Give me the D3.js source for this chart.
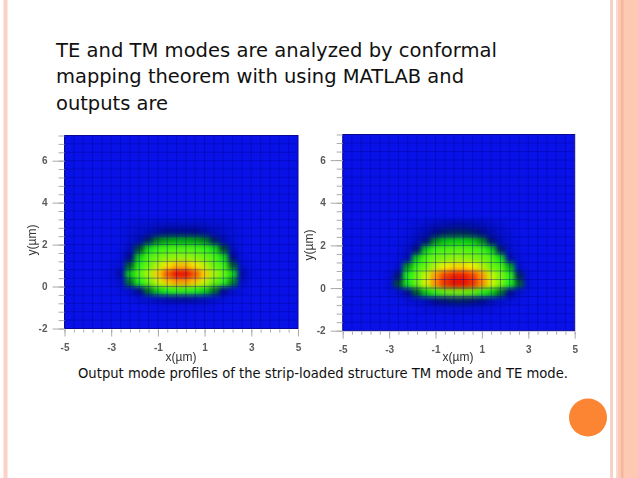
<!DOCTYPE html>
<html>
<head>
<meta charset="utf-8">
<script src="https://cdn.jsdelivr.net/npm/d3@7/dist/d3.min.js"></script>
<style>
html, body { margin: 0; padding: 0; background: #fff; }
svg { display: block; }
.slide-text { font-family: "DejaVu Sans", sans-serif; fill: #111; }
.axis { filter: blur(0.35px); }
.map { filter: blur(0.4px); }
.axis text { font-family: "Liberation Sans", sans-serif; font-size: 10px; font-weight: bold; fill: #5a5a5a; }
.axis path { display: none; }
.axis line { stroke: #aaa; stroke-width: 1; }
.axis-title { font-family: "Liberation Sans", sans-serif; font-size: 12px; fill: #333; filter: blur(0.3px); }
</style>
</head>
<body>
<svg id="slide" width="638" height="478"></svg>
<script>
// cell centres of the part of the map where the mode shows, the rest is background
var xCells = [-3.0, -2.6, -2.2, -1.8, -1.4, -1.0, -0.6, -0.2, 0.2, 0.6, 1.0, 1.4, 1.8, 2.2, 2.6, 3.0];
var yCells = [3.0, 2.6, 2.2, 1.8, 1.4, 1.0, 0.6, 0.2, -0.2, -0.6, -1.0];

// TM mode
var tmMode = [
    [.00, .00, .02, .03, .04, .05, .06, .06, .06, .06, .05, .04, .03, .02, .00, .00],
    [.00, .01, .03, .05, .07, .10, .12, .12, .12, .12, .10, .07, .05, .03, .01, .00],
    [.00, .01, .04, .08, .16, .25, .28, .29, .29, .28, .25, .16, .08, .04, .01, .00],
    [.00, .01, .07, .20, .38, .45, .47, .48, .48, .47, .45, .38, .20, .07, .01, .00],
    [.00, .02, .12, .36, .48, .52, .55, .57, .57, .55, .52, .48, .38, .12, .02, .00],
    [.01, .04, .22, .44, .52, .62, .72, .78, .78, .72, .62, .52, .46, .22, .04, .01],
    [.02, .09, .36, .50, .60, .76, .92, 1.0, 1.0, .92, .76, .60, .52, .38, .09, .02],
    [.01, .05, .24, .42, .52, .64, .76, .82, .82, .76, .64, .52, .44, .26, .06, .01],
    [.00, .02, .05, .12, .24, .36, .42, .44, .44, .42, .36, .24, .12, .05, .02, .00],
    [.00, .00, .01, .03, .05, .07, .09, .10, .10, .09, .07, .05, .03, .01, .00, .00],
    [.00, .00, .00, .00, .01, .02, .02, .02, .02, .02, .02, .01, .00, .00, .00, .00]
];

// TE mode
var teMode = [
    [.00, .00, .01, .03, .05, .07, .08, .09, .09, .08, .07, .05, .03, .01, .00, .00],
    [.00, .00, .02, .05, .08, .12, .15, .16, .16, .15, .12, .08, .05, .02, .00, .00],
    [.00, .01, .03, .07, .14, .26, .33, .35, .35, .33, .26, .14, .07, .03, .01, .00],
    [.00, .01, .05, .14, .36, .46, .48, .49, .49, .48, .46, .36, .15, .05, .01, .00],
    [.00, .02, .08, .36, .48, .52, .54, .56, .56, .54, .52, .48, .38, .09, .02, .00],
    [.00, .04, .28, .46, .52, .62, .70, .74, .74, .70, .62, .52, .48, .30, .05, .00],
    [.02, .14, .42, .52, .64, .84, .94, .98, .98, .94, .84, .64, .54, .44, .16, .02],
    [.03, .20, .40, .52, .66, .86, .96, 1.0, 1.0, .96, .86, .66, .54, .42, .22, .03],
    [.01, .05, .11, .22, .36, .44, .50, .52, .52, .50, .44, .36, .24, .12, .05, .01],
    [.00, .01, .03, .05, .08, .12, .14, .15, .15, .14, .12, .08, .05, .03, .01, .00],
    [.00, .00, .00, .01, .02, .03, .03, .04, .04, .03, .03, .02, .01, .00, .00, .00]
];

var xTicks = [-5, -3, -1, 1, 3, 5];
var yTicks = [-2, 0, 2, 4, 6];
var xDomain = [-5, 5];
var yDomain = [-2, 7.2];
var cellSize = 0.4;

var titleLines = [
    "TE and TM modes are analyzed by conformal",
    "mapping theorem with using MATLAB and",
    "outputs are"
];
var caption = "Output mode profiles of the strip-loaded structure TM mode and TE mode.";

var svg = d3.select("#slide");
var defs = svg.append("defs");

var color = d3.scaleLinear()
    .domain([0, .06, .13, .2, .3, .42, .7, .86, 1])
    .range(["#0812e8", "#0410c4", "#020a80", "#004a30", "#00b010", "#20f418", "#f8f400", "#ff8a00", "#e81000"])
    .clamp(true);

// stripes of the slide theme
var stripes = [
    {x: 3.5, w: 4, c: "#fbd2c4"},
    {x: 610, w: 3, c: "#f6d3c8"},
    {x: 616, w: 2, c: "#fbd9cc"},
    {x: 618, w: 20, c: "#fdc9b3"},
    {x: 621, w: 2.5, c: "#f3b79f"}
];
svg.selectAll("rect.stripe").data(stripes).enter().append("rect")
    .attr("class", "stripe")
    .attr("x", function(d) { return d.x; })
    .attr("y", 0)
    .attr("width", function(d) { return d.w; })
    .attr("height", 478)
    .attr("fill", function(d) { return d.c; });

svg.append("circle")
    .attr("cx", 588).attr("cy", 417.5).attr("r", 19)
    .attr("fill", "#fb8533");

var titleLeft = 56, titleBase = [57, 83, 110], titleWidth = [441, 408, 112];
svg.selectAll("text.title").data(titleLines).enter().append("text")
    .attr("class", "title slide-text")
    .attr("x", titleLeft)
    .attr("y", function(d, i) { return titleBase[i]; })
    .attr("font-size", 19.5)
    .attr("textLength", function(d, i) { return titleWidth[i]; })
    .attr("lengthAdjust", "spacingAndGlyphs")
    .text(function(d) { return d; });

svg.append("text")
    .attr("class", "slide-text")
    .attr("x", 78).attr("y", 378)
    .attr("font-size", 13.5)
    .attr("textLength", 490)
    .attr("lengthAdjust", "spacingAndGlyphs")
    .text(caption);

function drawMap(id, values, box) {
    var x = d3.scaleLinear().domain(xDomain).range([box.left, box.right]);
    var y = d3.scaleLinear().domain(yDomain).range([box.bottom, box.top]);
    var w = box.right - box.left, h = box.bottom - box.top;

    defs.append("clipPath").attr("id", "clip-" + id)
        .append("rect").attr("x", box.left).attr("y", box.top).attr("width", w).attr("height", h);
    defs.append("filter").attr("id", "blur-" + id)
        .attr("filterUnits", "userSpaceOnUse")
        .attr("x", box.left).attr("y", box.top).attr("width", w).attr("height", h)
        .attr("color-interpolation-filters", "sRGB")
        .append("feGaussianBlur").attr("stdDeviation", 2.8);

    var plot = svg.append("g").attr("class", "map").attr("clip-path", "url(#clip-" + id + ")");
    plot.append("rect")
        .attr("x", box.left).attr("y", box.top).attr("width", w).attr("height", h)
        .attr("fill", color(0));

    var cells = plot.append("g").attr("filter", "url(#blur-" + id + ")");
    values.forEach(function(row, j) {
        cells.selectAll("rect.r" + j).data(row).enter().append("rect")
            .attr("class", "r" + j)
            .attr("x", function(d, i) { return x(xCells[i] - cellSize / 2); })
            .attr("y", y(yCells[j] + cellSize / 2))
            .attr("width", x(cellSize) - x(0) + 0.5)
            .attr("height", y(0) - y(cellSize) + 0.5)
            .attr("fill", function(d) { return color(d); });
    });

    // thin grid, one line each minor tick. bluish so it stays faint on the blue part
    var xMinor = d3.range(xDomain[0], xDomain[1] + 0.01, cellSize);
    var yMinor = d3.range(yDomain[0], yDomain[1] + 0.01, cellSize);
    plot.selectAll("line.gx").data(xMinor).enter().append("line")
        .attr("class", "gx")
        .attr("x1", function(d) { return x(d); }).attr("x2", function(d) { return x(d); })
        .attr("y1", box.top).attr("y2", box.bottom)
        .attr("stroke", "#000090").attr("stroke-opacity", 0.42).attr("stroke-width", 0.9);
    plot.selectAll("line.gy").data(yMinor).enter().append("line")
        .attr("class", "gy")
        .attr("y1", function(d) { return y(d); }).attr("y2", function(d) { return y(d); })
        .attr("x1", box.left).attr("x2", box.right)
        .attr("stroke", "#000090").attr("stroke-opacity", 0.42).attr("stroke-width", 0.9);

    svg.append("rect")
        .attr("x", box.left).attr("y", box.top).attr("width", w).attr("height", h)
        .attr("fill", "none").attr("stroke", "#0a0a90").attr("stroke-width", 1);

    // axes, minor ticks first and the labelled ones over them
    var plain = function(d) { return String(d); };
    svg.append("g").attr("class", "axis")
        .attr("transform", "translate(0," + (box.bottom + 1) + ")")
        .call(d3.axisBottom(x).tickValues(xMinor).tickSize(3).tickFormat(""));
    svg.append("g").attr("class", "axis")
        .attr("transform", "translate(0," + (box.bottom + 1) + ")")
        .call(d3.axisBottom(x).tickValues(xTicks).tickSize(7).tickPadding(7).tickFormat(plain));
    svg.append("g").attr("class", "axis")
        .attr("transform", "translate(" + box.left + ",0)")
        .call(d3.axisLeft(y).tickValues(yMinor).tickSize(6).tickFormat(""));
    svg.append("g").attr("class", "axis")
        .attr("transform", "translate(" + box.left + ",0)")
        .call(d3.axisLeft(y).tickValues(yTicks).tickSize(12).tickPadding(5).tickFormat(plain));

    svg.append("text").attr("class", "axis-title")
        .attr("x", box.xLabel).attr("y", 361).attr("text-anchor", "middle")
        .text("x(µm)");
    svg.append("text").attr("class", "axis-title")
        .attr("transform", "translate(" + box.yLabelX + "," + box.yLabelY + ") rotate(-90)")
        .attr("text-anchor", "middle")
        .text("y(µm)");
}

drawMap("tm", tmMode, {left: 64.5, right: 298, top: 135.5, bottom: 328.5, xLabel: 181, yLabelX: 36, yLabelY: 240});
drawMap("te", teMode, {left: 342.7, right: 574.7, top: 134.5, bottom: 330.7, xLabel: 458, yLabelX: 313, yLabelY: 245});
</script>
</body>
</html>
